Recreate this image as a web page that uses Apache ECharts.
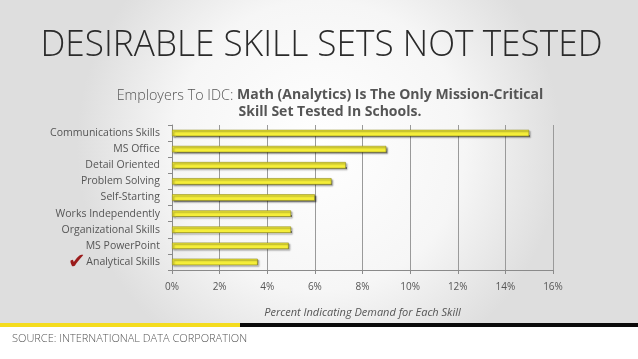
<!DOCTYPE html>
<html>
<head>
<meta charset="utf-8">
<script src="https://cdn.jsdelivr.net/npm/echarts@6/dist/echarts.min.js"></script>
<style>
html,body{margin:0;padding:0;background:#fff;}
#c{width:638px;height:359px;}
</style>
</head>
<body>
<div id="c"></div>
<script>
var categories = ['Communications Skills','MS Office','Detail Oriented','Problem Solving','Self-Starting','Works Independently','Organizational Skills','MS PowerPoint','Analytical Skills'];
var values = [15, 9, 7.3, 6.7, 6.0, 5.0, 5.0, 4.9, 3.6];
var xTicks = [0, 2, 4, 6, 8, 10, 12, 14, 16];
var checked = 'Analytical Skills';
var titleText = 'DESIRABLE SKILL SETS NOT TESTED';

var titleFont = '300 36px "Open Sans"';
var cv = document.createElement('canvas').getContext('2d');
cv.font = titleFont;
var titleW = cv.measureText(titleText).width;
var targetW = 562;
var sx = targetW / titleW;

var chart = echarts.init(document.getElementById('c'));
chart.setOption({
  animation: false,
  graphic: [
    { type: 'rect', silent: true, z: -100,
      shape: { x: 0, y: 0, width: 638, height: 323 },
      style: { fill: new echarts.graphic.RadialGradient(0.5, 0.45, 0.75, [
        { offset: 0, color: '#ffffff' }, { offset: 0.6, color: '#f6f6f6' }, { offset: 1, color: '#dedede' }]) } },
    { type: 'rect', silent: true, shape: { x: 0, y: 323, width: 240, height: 4 }, style: { fill: '#f4dc1e' } },
    { type: 'rect', silent: true, shape: { x: 240, y: 323, width: 398, height: 4 }, style: { fill: '#0a0a0a' } },
    { type: 'text', x: 321.5, y: 46, scaleX: sx, originX: 0, originY: 0,
      style: { text: titleText, fill: '#2a2a2a', font: titleFont, align: 'center', verticalAlign: 'middle' } },
    { type: 'text', left: 12, top: 333,
      style: { text: 'SOURCE: INTERNATIONAL DATA CORPORATION', fill: '#555', font: '300 11px "Open Sans"' } }
  ],
  title: [
    { text: '{n|Employers To IDC: }{b|Math (Analytics) Is The Only Mission-Critical}\n{b|Skill Set Tested In Schools.}',
      left: 325, top: 82, textAlign: 'center',
      textStyle: { align: 'center', lineHeight: 17,
        rich: {
          n: { fontFamily: 'Open Sans', fontWeight: 300, fontSize: 14.3, color: '#555', lineHeight: 17 },
          b: { fontFamily: 'Open Sans', fontWeight: 'bold', fontSize: 14, color: '#555', lineHeight: 17 }
        } } }
  ],
  grid: { left: 172, right: 85, top: 125, bottom: 89, containLabel: false },
  xAxis: {
    type: 'value', min: 0, max: 16, interval: 2,
    name: 'Percent Indicating Demand for Each Skill', nameLocation: 'middle', nameGap: 37,
    nameTextStyle: { fontFamily: 'Open Sans', fontStyle: 'italic', fontSize: 11, color: '#555' },
    axisLine: { show: true, lineStyle: { color: '#8a8a8a' } },
    axisTick: { show: true, length: 4, lineStyle: { color: '#8a8a8a' } },
    splitLine: { show: true, lineStyle: { color: '#9a9a9a' } },
    axisLabel: { margin: 12, fontFamily: 'Open Sans', fontSize: 10, color: '#555',
      formatter: function (v) { return xTicks.indexOf(v) >= 0 ? v + '%' : ''; } }
  },
  yAxis: {
    type: 'category', data: categories, inverse: true,
    axisLine: { show: true, lineStyle: { color: '#8a8a8a' } },
    axisTick: { show: true, length: 4, lineStyle: { color: '#8a8a8a' } },
    axisLabel: { margin: 12, fontFamily: 'Open Sans', fontSize: 10.5, color: '#555',
      formatter: function (v) { return v === checked ? '{c|✔}' + v : v; },
      rich: { c: { color: '#9b1b1b', fontSize: 21, padding: [0, 0, 0, 0] } } }
  },
  series: [{
    type: 'bar', data: values, barWidth: 6.5,
    itemStyle: { color: '#f6ef3a', borderColor: '#8f8a1a', borderWidth: 0.6,
      shadowColor: 'rgba(0,0,0,0.55)', shadowOffsetX: 1.5, shadowOffsetY: 1.5, shadowBlur: 1.5 }
  }]
});
</script>
</body>
</html>
